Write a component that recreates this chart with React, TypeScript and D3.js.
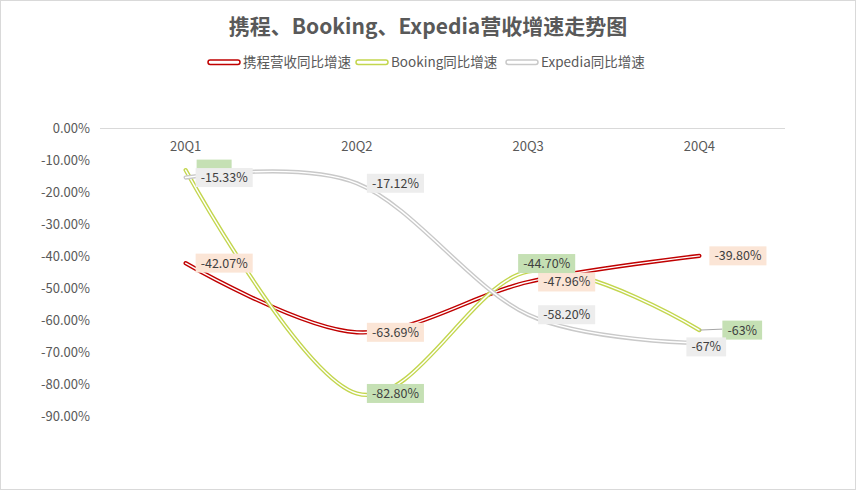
import React, { useRef, useEffect } from "react";
import * as d3 from "d3";

const categories = ["20Q1", "20Q2", "20Q3", "20Q4"];
const seriesNames = ["携程营收同比增速", "Booking同比增速", "Expedia同比增速"];
const ctripValues = [-42.07, -63.69, -47.96, -39.8];
const bookingValues = [-13.0, -82.8, -44.7, -63.0];
const expediaValues = [-15.33, -17.12, -58.2, -67.0];
const ctripLabels = ["-42.07%", "-63.69%", "-47.96%", "-39.80%"];
// the 20Q1 Booking label is hidden behind the Expedia label in the reference
const bookingLabels = ["", "-82.80%", "-44.70%", "-63%"];
const expediaLabels = ["-15.33%", "-17.12%", "-58.20%", "-67%"];
const yTicks = [0, -10, -20, -30, -40, -50, -60, -70, -80, -90];

const FONT = "'Microsoft YaHei', 'Noto Sans CJK SC', 'Noto Sans', sans-serif";

const App: React.FC = () => {
  const ref = useRef<SVGSVGElement | null>(null);

  useEffect(() => {
    const width = 857;
    const height = 500;
    const root = d3.select(ref.current);
    root.selectAll("*").remove();
    root.attr("width", width).attr("height", height);

    const fmt = d3.formatLocale({
      decimal: ".",
      thousands: ",",
      grouping: [3],
      currency: ["", ""],
      minus: "-",
    }).format(".2f");

    // frame
    root
      .append("rect")
      .attr("x", 0.5)
      .attr("y", 0.5)
      .attr("width", 855)
      .attr("height", 489)
      .attr("fill", "#fff")
      .attr("stroke", "#d9d9d9");

    // title
    root
      .append("text")
      .attr("x", 428)
      .attr("y", 34)
      .attr("text-anchor", "middle")
      .attr("fill", "#595959")
      .style("font-family", FONT)
      .style("font-size", "21px")
      .style("font-weight", "bold")
      .text("携程、Booking、Expedia营收增速走势图");

    const x = d3.scaleBand().domain(categories).range([100, 785]);
    const y = d3.scaleLinear().domain([-90, 0]).range([416.5, 128.5]);
    const cx = (c: string) => (x(c) ?? 0) + x.bandwidth() / 2;

    // y axis labels
    root
      .append("g")
      .selectAll("text")
      .data(yTicks)
      .enter()
      .append("text")
      .attr("x", 90)
      .attr("y", (d) => y(d) + 4.5)
      .attr("text-anchor", "end")
      .attr("fill", "#595959")
      .style("font-family", FONT)
      .style("font-size", "13px")
      .text((d) => fmt(d) + "%");

    // category axis at zero
    root
      .append("line")
      .attr("x1", 100)
      .attr("x2", 785)
      .attr("y1", y(0))
      .attr("y2", y(0))
      .attr("stroke", "#d9d9d9")
      .attr("stroke-width", 1);
    root
      .append("g")
      .selectAll("text")
      .data(categories)
      .enter()
      .append("text")
      .attr("x", (d) => cx(d))
      .attr("y", y(0) + 22)
      .attr("text-anchor", "middle")
      .attr("fill", "#595959")
      .style("font-family", FONT)
      .style("font-size", "13px")
      .text((d) => d);

    const series = [
      { name: seriesNames[0], values: ctripValues, labels: ctripLabels, color: "#c00000", fill: "#fbe5d6",
        offsets: [[10, 0], [10, 0], [10, 0], [10, 0]] },
      { name: seriesNames[1], values: bookingValues, labels: bookingLabels, color: "#c3d64e", fill: "#c5e0b4",
        offsets: [[11, -1], [10, 0], [-10, -8], [23, 0]] },
      { name: seriesNames[2], values: expediaValues, labels: expediaLabels, color: "#c9c9c9", fill: "#ededed",
        offsets: [[10, 0], [10, 0], [10, 0], [-13, 4]] },
    ];

    const line = d3
      .line<number>()
      .x((_, i) => cx(categories[i]))
      .y((d) => y(d))
      .curve(d3.curveCardinal.tension(0));

    const lines = root.append("g");
    series.forEach((s) => {
      lines
        .append("path")
        .datum(s.values)
        .attr("fill", "none")
        .attr("stroke", s.color)
        .attr("stroke-width", 4.2)
        .attr("stroke-linecap", "round")
        .attr("d", line);
      lines
        .append("path")
        .datum(s.values)
        .attr("fill", "none")
        .attr("stroke", "#fff")
        .attr("stroke-width", 1.4)
        .attr("stroke-linecap", "round")
        .attr("d", line);
    });

    // leader line for Booking 20Q4
    root
      .append("line")
      .attr("x1", cx(categories[3]))
      .attr("y1", y(bookingValues[3]))
      .attr("x2", cx(categories[3]) + 23)
      .attr("y2", y(bookingValues[3]) - 1)
      .attr("stroke", "#a6a6a6")
      .attr("stroke-width", 1);

    // data labels
    const labelsG = root.append("g");
    series.forEach((s) => {
      s.values.forEach((v, i) => {
        const px = cx(categories[i]);
        const py = y(v);
        const [dx, dy] = s.offsets[i];
        const g = labelsG.append("g");
        const rect = g.append("rect").attr("fill", s.fill);
        const t = g
          .append("text")
          .attr("fill", "#404040")
          .style("font-family", FONT)
          .style("font-size", "12.5px")
          .text(s.labels[i]);
        const w = (t.node() as SVGTextElement).getComputedTextLength();
        const bw = s.labels[i] ? w + 10 : 35;
        const bh = 19;
        const left = px + dx;
        const top = py + dy - bh / 2;
        rect.attr("x", left).attr("y", top).attr("width", bw).attr("height", bh);
        if (s.labels[i]) t.attr("x", left + 5).attr("y", top + 14);
        else t.remove();
      });
    });

    // legend
    const legend = root.append("g");
    const legendX = [208, 356, 506];
    series.forEach((s, i) => {
      const lx = legendX[i];
      legend
        .append("rect")
        .attr("x", lx)
        .attr("y", 60)
        .attr("width", 32)
        .attr("height", 4.5)
        .attr("rx", 2.2)
        .attr("fill", "#fff")
        .attr("stroke", s.color)
        .attr("stroke-width", 1.5);
      legend
        .append("text")
        .attr("x", lx + 35)
        .attr("y", 67)
        .attr("fill", "#595959")
        .style("font-family", FONT)
        .style("font-size", "13.5px")
        .text(s.name);
    });
  }, []);

  return (
    <div style={{ position: "absolute", left: 0, top: 0, background: "#fff" }}>
      <svg ref={ref} style={{ display: "block" }} />
    </div>
  );
};

export default App;
